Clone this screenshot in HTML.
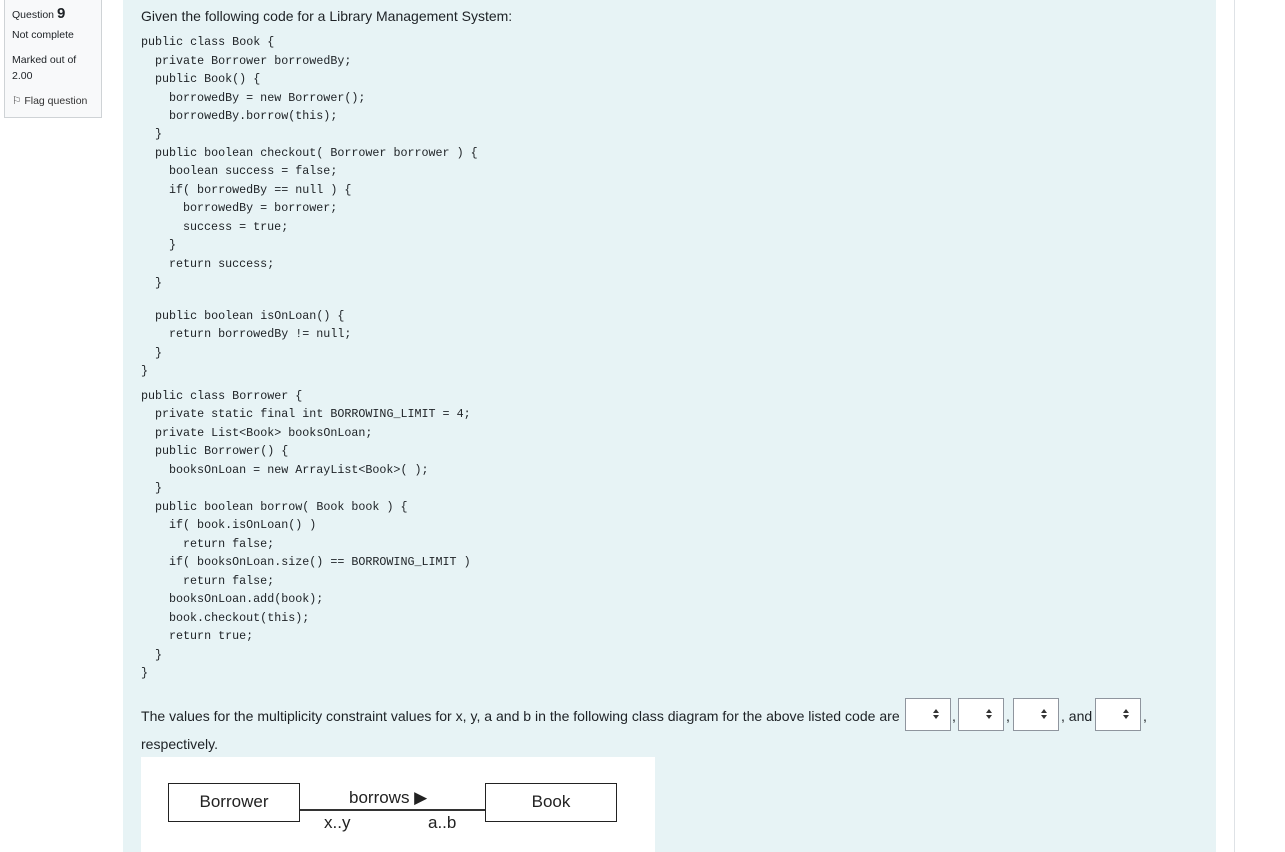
<!DOCTYPE html>
<html><head><meta charset="utf-8"><style>
body{margin:0;width:1285px;height:852px;background:#fff;position:relative;overflow:hidden;font-family:"Liberation Sans",sans-serif;color:#1d2125}
.info{position:absolute;left:4px;top:0;width:96px;height:117px;border:1px solid #cfd3d6;background:#f8f9fa;border-top:none;font-size:10.5px}
.info div{position:absolute;left:7px}
.panel{position:absolute;left:123px;top:0;width:1093px;height:852px;background:#e7f3f5}
.vl{position:absolute;left:1234px;top:0;width:1px;height:852px;background:#dee2e6}
.c{position:absolute;font-family:"Liberation Mono",monospace;font-size:11.7px;white-space:pre;line-height:14px;color:#1d2125}
.t{position:absolute;font-size:14.05px;white-space:nowrap}
.sel{position:absolute;top:698px;width:46px;height:33px;border:1px solid #8f959e;background:#fff;box-sizing:border-box}
.sel::after{content:"";position:absolute;left:27px;top:10px;width:0;height:0;border-left:3px solid transparent;border-right:3px solid transparent;border-bottom:4px solid #333}
.sel::before{content:"";position:absolute;left:27px;top:16px;width:0;height:0;border-left:3px solid transparent;border-right:3px solid transparent;border-top:4px solid #333}
.box{position:absolute;border:1.5px solid #222;background:#fff;box-sizing:border-box;font-size:17px;text-align:center;line-height:36px;color:#222}
</style></head><body>
<div class="info">
<div style="top:5px">Question <b style="font-size:15px">9</b></div>
<div style="top:29px">Not complete</div>
<div style="top:54px">Marked out of</div>
<div style="top:70px">2.00</div>
<div style="top:95px;color:#333">⚐ Flag question</div>
</div>
<div class="panel"></div>
<div class="vl"></div>
<div class="t" style="left:141px;top:8px;font-size:14px">Given the following code for a Library Management System:</div>
<div class="c" style="left:141px;top:35px">public class Book {</div>
<div class="c" style="left:155px;top:54px">private Borrower borrowedBy;</div>
<div class="c" style="left:155px;top:72px">public Book() {</div>
<div class="c" style="left:169px;top:91px">borrowedBy = new Borrower();</div>
<div class="c" style="left:169px;top:109px">borrowedBy.borrow(this);</div>
<div class="c" style="left:155px;top:127px">}</div>
<div class="c" style="left:155px;top:146px">public boolean checkout( Borrower borrower ) {</div>
<div class="c" style="left:169px;top:164px">boolean success = false;</div>
<div class="c" style="left:169px;top:183px">if( borrowedBy == null ) {</div>
<div class="c" style="left:183px;top:201px">borrowedBy = borrower;</div>
<div class="c" style="left:183px;top:220px">success = true;</div>
<div class="c" style="left:169px;top:238px">}</div>
<div class="c" style="left:169px;top:257px">return success;</div>
<div class="c" style="left:155px;top:276px">}</div>
<div class="c" style="left:155px;top:309px">public boolean isOnLoan() {</div>
<div class="c" style="left:169px;top:327px">return borrowedBy != null;</div>
<div class="c" style="left:155px;top:346px">}</div>
<div class="c" style="left:141px;top:364px">}</div>
<div class="c" style="left:141px;top:389px">public class Borrower {</div>
<div class="c" style="left:155px;top:407px">private static final int BORROWING_LIMIT = 4;</div>
<div class="c" style="left:155px;top:426px">private List&lt;Book&gt; booksOnLoan;</div>
<div class="c" style="left:155px;top:444px">public Borrower() {</div>
<div class="c" style="left:169px;top:463px">booksOnLoan = new ArrayList&lt;Book&gt;( );</div>
<div class="c" style="left:155px;top:481px">}</div>
<div class="c" style="left:155px;top:500px">public boolean borrow( Book book ) {</div>
<div class="c" style="left:169px;top:518px">if( book.isOnLoan() )</div>
<div class="c" style="left:183px;top:537px">return false;</div>
<div class="c" style="left:169px;top:555px">if( booksOnLoan.size() == BORROWING_LIMIT )</div>
<div class="c" style="left:183px;top:574px">return false;</div>
<div class="c" style="left:169px;top:592px">booksOnLoan.add(book);</div>
<div class="c" style="left:169px;top:611px">book.checkout(this);</div>
<div class="c" style="left:169px;top:629px">return true;</div>
<div class="c" style="left:155px;top:648px">}</div>
<div class="c" style="left:141px;top:666px">}</div>
<div class="t" style="left:141px;top:708px">The values for the multiplicity constraint values for x, y, a and b in the following class diagram for the above listed code are</div>
<div class="sel" style="left:905px"></div><div class="t" style="left:952px;top:708px">,</div>
<div class="sel" style="left:958px"></div><div class="t" style="left:1006px;top:708px">,</div>
<div class="sel" style="left:1013px"></div><div class="t" style="left:1061px;top:708px">, and</div>
<div class="sel" style="left:1095px"></div><div class="t" style="left:1143px;top:708px">,</div>
<div class="t" style="left:141px;top:736px">respectively.</div>
<div style="position:absolute;left:141px;top:757px;width:514px;height:95px;background:#fff"></div>
<div style="position:absolute;left:299px;top:809px;width:187px;height:1.5px;background:#333"></div>
<div class="box" style="left:168px;top:783px;width:132px;height:39px">Borrower</div>
<div class="box" style="left:485px;top:783px;width:132px;height:39px">Book</div>
<div class="t" style="left:349px;top:788px;font-size:17px;color:#222">borrows ▶</div>
<div class="t" style="left:324px;top:813px;font-size:17px;color:#222">x..y</div>
<div class="t" style="left:428px;top:813px;font-size:17px;color:#222">a..b</div>
</body></html>
